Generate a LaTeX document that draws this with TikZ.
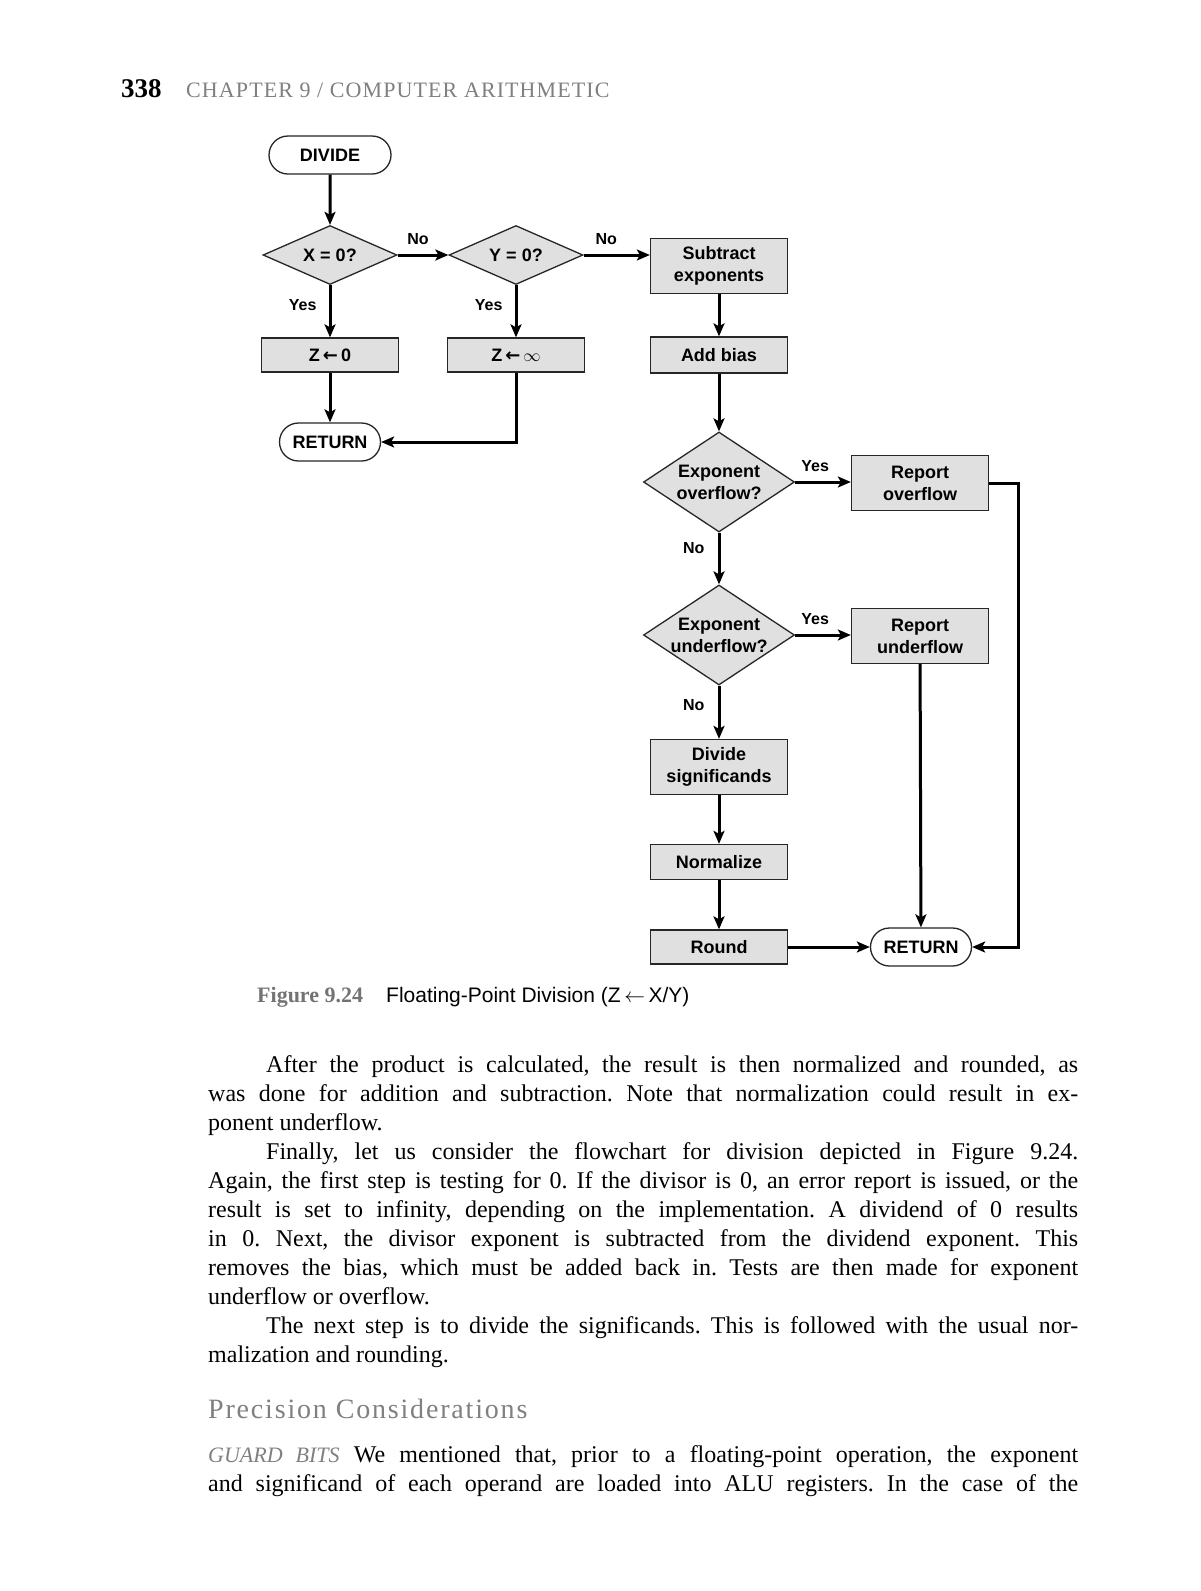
\documentclass[tikz,border=0pt]{standalone}
\usepackage{amsmath}
\usepackage{fontspec}
\setmainfont{Liberation Serif}
\newfontfamily\dsans{Liberation Sans}
\newfontfamily\djv{DejaVu Sans}
\newfontfamily\chapf[LetterSpace=5.0]{Liberation Serif}
\newfontfamily\headf[LetterSpace=6.5]{Liberation Serif}
\usetikzlibrary{shapes.geometric,shapes.misc,arrows.meta}
\definecolor{boxgray}{gray}{0.88}
\definecolor{txtgray}{gray}{0.5}
\definecolor{figgray}{gray}{0.45}
\frenchspacing
\begin{document}
\begin{tikzpicture}[x=1pt,y=-1pt,
  every node/.style={inner sep=0pt},
  shp/.style={draw=black!85, line width=1.3pt, font=\dsans\bfseries\fontsize{18}{22}\selectfont, align=center},
  term/.style={shp, rounded rectangle, fill=white, minimum height=38pt},
  proc/.style={shp, rectangle, fill=boxgray, minimum width=137pt},
  dec/.style={shp, diamond, fill=boxgray},
  lbl/.style={font=\dsans\bfseries\fontsize{16}{18}\selectfont},
  conn/.style={line width=3pt, -{Stealth[length=13pt,width=11pt,inset=3pt]}},
  para/.style={anchor=base west, text width=870pt, align=justify, font=\fontsize{24}{29}\selectfont}
]
\fill[white] (0,0) rectangle (1200,1591);
\useasboundingbox (0,0) rectangle (1200,1591);

% header
\node[anchor=base west, font=\bfseries\fontsize{27}{30}\selectfont] (pg) at (121,97) {338};
\node[anchor=base west, font=\chapf\fontsize{22}{26}\selectfont, text=txtgray] (chap) at (186,97) {CHAPTER 9 / COMPUTER ARITHMETIC};

% flowchart nodes
\node[term, minimum width=122pt] (divide) at (330,155) {DIVIDE};
\node[dec, minimum width=134pt, minimum height=59pt, aspect=2.27] (xz) at (330,255) {X = 0?};
\node[dec, minimum width=134pt, minimum height=59pt, aspect=2.27] (yz) at (516,255) {Y = 0?};
\node[proc, minimum height=55pt] (sub) at (719,266) {Subtract\\exponents};
\node[proc, minimum height=34pt] (z0) at (330,355) {Z\,{\djv\bfseries ←}\,0};
\node[proc, minimum height=34pt] (zi) at (516,355) {Z\,{\djv\bfseries ←}\,$\infty$};
\node[proc, minimum height=36pt] (bias) at (719,355) {Add bias};
\node[term, minimum width=101pt] (retl) at (330,442) {RETURN};
\node[dec, minimum width=151pt, minimum height=100pt, aspect=1.525, inner sep=-3pt] (eo) at (719,482) {Exponent\\overflow?};
\node[proc, minimum height=55pt] (ro) at (920,483) {Report\\overflow};
\node[dec, minimum width=151pt, minimum height=100pt, aspect=1.525, inner sep=-3pt] (eu) at (719,635) {Exponent\\underflow?};
\node[proc, minimum height=55pt] (ru) at (920,636) {Report\\underflow};
\node[proc, minimum height=55pt] (ds) at (719,767) {Divide\\significands};
\node[proc, minimum height=35pt] (nm) at (719,862) {Normalize};
\node[proc, minimum height=34pt] (rd) at (719,947) {Round};
\node[term, minimum width=101pt] (retr) at (921,947) {RETURN};

% connectors
\draw[conn] (divide) -- (xz);
\draw[conn] (xz.east) -- (yz.west) node[lbl, pos=0.4, above=9pt] {No};
\draw[conn] (yz.east) -- (yz.east -| sub.west) node[lbl, pos=0.34, above=9pt] {No};
\draw[conn] (xz) -- (z0) node[lbl, pos=0.38, left=12pt] {Yes};
\draw[conn] (yz) -- (zi) node[lbl, pos=0.38, left=12pt] {Yes};
\draw[conn] (z0) -- (retl);
\draw[conn] (zi.south) |- (retl.east);
\draw[conn] (sub) -- (bias);
\draw[conn] (bias) -- (eo);
\draw[conn] (eo.east) -- (eo.east -| ro.west) node[lbl, pos=0.36, above=9pt] {Yes};
\draw[conn] (eo) -- (eu) node[lbl, pos=0.3, left=13pt] {No};
\draw[conn] (eu.east) -- (eu.east -| ru.west) node[lbl, pos=0.36, above=9pt] {Yes};
\draw[conn] (eu) -- (ds) node[lbl, pos=0.37, left=13pt] {No};
\draw[conn] (ds) -- (nm);
\draw[conn] (nm) -- (rd);
\draw[conn] (rd) -- (retr);
\draw[conn] (ru) -- (retr);
\draw[conn] (ro.east) -- ++(29,0) |- (retr.east);

% caption
\node[anchor=base west, font=\bfseries\fontsize{22}{26}\selectfont, text=figgray] (figno) at (257,1002) {Figure 9.24};
\node[anchor=base west, font=\dsans\fontsize{21}{26}\selectfont] (cap) at (386,1002) {Floating-Point Division (Z\,$\leftarrow$\,X/Y)};

% body text
\node[para] (body) at (208,1072) {\hspace*{58pt}After the product is calculated, the result is then normalized and rounded, as\linebreak
was done for addition and subtraction. Note that normalization could result in ex-\linebreak
ponent underflow.\par
\hspace*{58pt}Finally, let us consider the flowchart for division depicted in Figure 9.24.\linebreak
Again, the first step is testing for 0. If the divisor is 0, an error report is issued, or the\linebreak
result is set to infinity, depending on the implementation. A dividend of 0 results\linebreak
in 0. Next, the divisor exponent is subtracted from the dividend exponent. This\linebreak
removes the bias, which must be added back in. Tests are then made for exponent\linebreak
underflow or overflow.\par
\hspace*{58pt}The next step is to divide the significands. This is followed with the usual nor-\linebreak
malization and rounding.\par};

\node[anchor=base west, font=\headf\fontsize{28}{32}\selectfont, text=txtgray] (head) at (208,1418) {Precision Considerations};

\node[para] (guard) at (208,1462) {\parfillskip=0pt {\itshape\color{txtgray}\fontsize{22}{29}\selectfont GUARD BITS} We mentioned that, prior to a floating-point operation, the exponent\linebreak
and significand of each operand are loaded into ALU registers. In the case of the\par};
\end{tikzpicture}
\end{document}
